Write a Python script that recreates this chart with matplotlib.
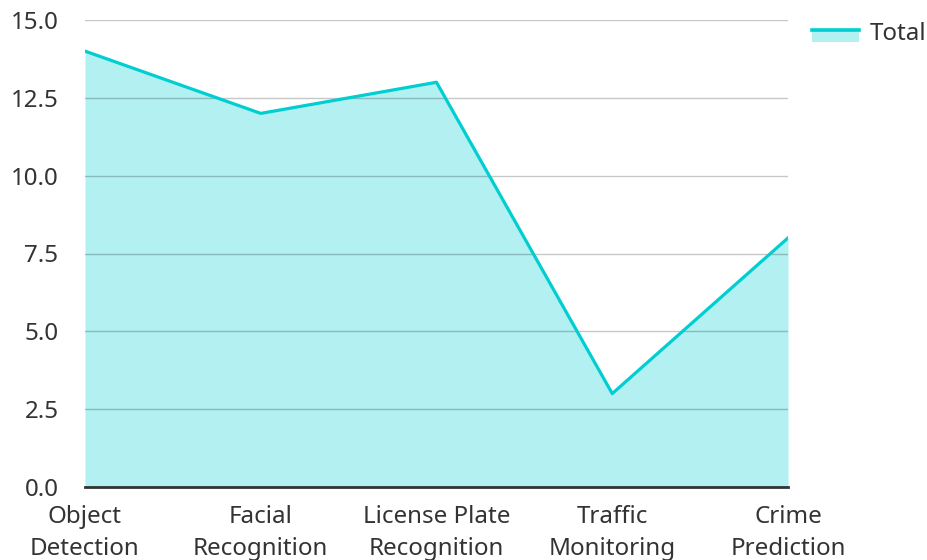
import matplotlib
matplotlib.use("Agg")
import matplotlib.pyplot as plt
from matplotlib.legend_handler import HandlerBase
from matplotlib.patches import Rectangle
from matplotlib.lines import Line2D

# data
categories = ["Object\nDetection", "Facial\nRecognition", "License Plate\nRecognition",
              "Traffic\nMonitoring", "Crime\nPrediction"]
totals = [14, 12, 13, 3, 8]
yticks = [0, 2.5, 5, 7.5, 10, 12.5, 15]

line_color = "#00CED1"
text_color = "#333333"
fs = 17.4

plt.rcParams['font.family'] = ['Noto Sans', 'DejaVu Sans']


class AreaHandler(HandlerBase):
    # legend key: filled box with the line along its top edge
    def create_artists(self, legend, orig_handle, xdescent, ydescent,
                       width, height, fontsize, trans):
        top = -ydescent + height * 0.6
        bot = top - 9
        box = Rectangle((-xdescent, bot), width, top - bot,
                        facecolor=line_color, alpha=0.3, edgecolor="none",
                        transform=trans)
        ln = Line2D([-xdescent, -xdescent + width], [top, top],
                    color=line_color, lw=2.6, transform=trans)
        return [box, ln]


fig = plt.figure(figsize=(9.28, 5.6), dpi=100)
ax = fig.add_axes([85 / 928, 1 - 487 / 560, (788 - 85) / 928, (487 - 20) / 560])

x = list(range(len(categories)))
ax.fill_between(x, totals, 0, color=line_color, alpha=0.3, lw=0, zorder=1)
ax.plot(x, totals, color=line_color, lw=2.3, zorder=3, label="Total")

ax.set_xlim(0, len(categories) - 1)
ax.set_ylim(0, 15)
ax.set_yticks(yticks)
ax.set_yticklabels([f"{v:.1f}" for v in yticks])
ax.set_xticks(x)
ax.set_xticklabels(categories, linespacing=1.45)

ax.grid(axis="y", color="black", alpha=0.22, lw=1, zorder=2)
ax.set_axisbelow(False)
for s in ["left", "right", "top"]:
    ax.spines[s].set_visible(False)
ax.spines["bottom"].set_color(text_color)
ax.spines["bottom"].set_linewidth(2)
ax.spines["bottom"].set_zorder(4)

ax.tick_params(axis="y", length=0, pad=19, labelsize=fs, labelcolor=text_color)
ax.tick_params(axis="x", length=0, pad=13, labelsize=fs, labelcolor=text_color)

leg = ax.legend(handles=[Rectangle((0, 0), 1, 1)], labels=["Total"],
                handler_map={Rectangle: AreaHandler()},
                loc="upper left", bbox_to_anchor=(1.034, 0.996), frameon=False,
                borderaxespad=0, borderpad=0,
                fontsize=fs, handlelength=1.95, handletextpad=0.45,
                labelcolor=text_color)

fig.savefig("out.png", dpi=100)
